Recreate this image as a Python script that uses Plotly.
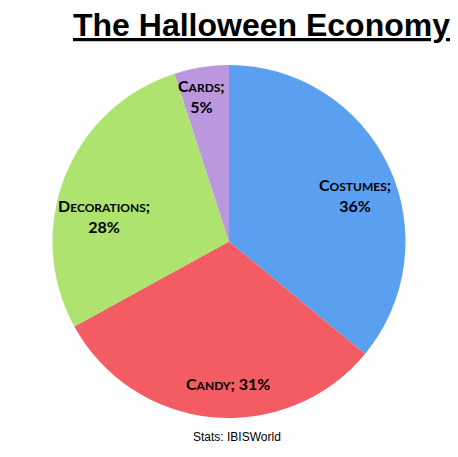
import plotly.graph_objects as go

categories = ["Costumes", "Candy", "Decorations", "Cards"]
shares = [36, 31, 28, 5]
colors = ["#5b9ff0", "#f25c62", "#ade36e", "#bb97dd"]

# label text for each slice (small caps faked with a smaller span)
label_text = [
    "C<span style='font-size:12px'>OSTUMES</span>;<br>36%",
    "C<span style='font-size:12px'>ANDY</span>; 31%",
    "D<span style='font-size:12px'>ECORATIONS</span>;<br>28%",
    "C<span style='font-size:12px'>ARDS</span>;<br>5%",
]
label_x = [355, 228, 104, 201]
label_y = [195, 383, 216, 96]

W, H = 458, 457
OFF = 8  # page body margin


def px(x):
    return (x - OFF) / W


def py(y):
    return 1 - (y - OFF) / H


fig = go.Figure(go.Pie(
    labels=categories,
    values=shares,
    marker=dict(colors=colors, line=dict(width=0)),
    sort=False,
    direction="clockwise",
    rotation=0,
    textinfo="none",
    hoverinfo="label+percent",
    showlegend=False,
    domain=dict(x=[px(52), px(406)], y=[py(418), py(65)]),
))

for t, x, y in zip(label_text, label_x, label_y):
    fig.add_annotation(
        text="<b>" + t + "</b>", x=px(x), y=py(y), xref="paper", yref="paper",
        xanchor="center", yanchor="middle", showarrow=False,
        font=dict(family="Lato", size=16, color="black"),
    )

fig.add_annotation(
    text="<b><u>The Halloween Economy</u></b>", x=px(261), y=py(25),
    xref="paper", yref="paper", xanchor="center", yanchor="middle", showarrow=False,
    font=dict(family="Liberation Sans", size=32, color="black"),
)
fig.add_annotation(
    text="Stats: IBISWorld", x=px(237), y=py(437),
    xref="paper", yref="paper", xanchor="center", yanchor="middle", showarrow=False,
    font=dict(family="Liberation Sans", size=12, color="black"),
)

fig.update_layout(
    width=W, height=H,
    margin=dict(l=0, r=0, t=0, b=0),
    paper_bgcolor="white", plot_bgcolor="white",
)
fig.write_html("out.html")
